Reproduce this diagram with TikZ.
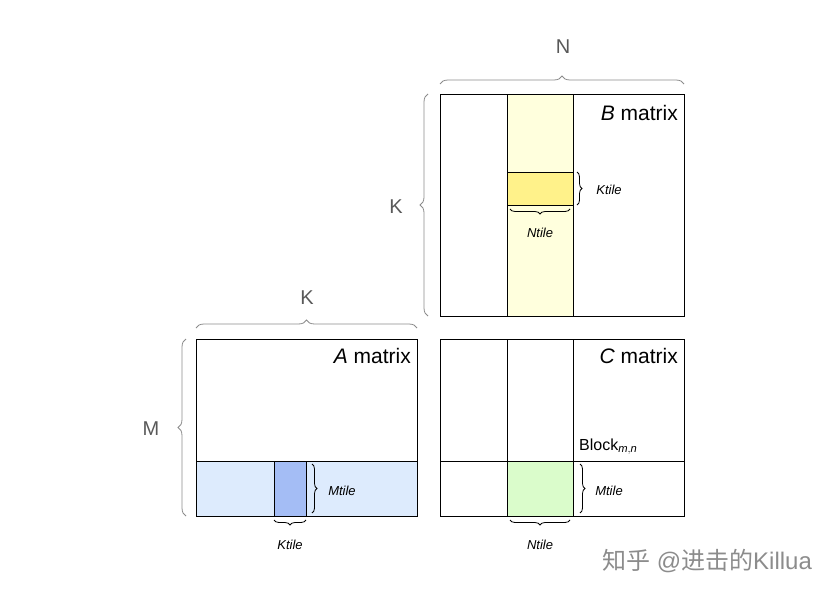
\documentclass[tikz,border=0pt]{standalone}
\usepackage{fontspec}
\setmainfont{Liberation Sans}
\newfontfamily\cjk{Noto Sans CJK SC}
\usetikzlibrary{decorations.pathreplacing}
\definecolor{ylight}{HTML}{FFFFDD}
\definecolor{ydark}{HTML}{FFF28A}
\definecolor{blight}{HTML}{DDEBFD}
\definecolor{bdark}{HTML}{A4BDF5}
\definecolor{gcell}{HTML}{DAFCCB}
\definecolor{lbl}{HTML}{595959}
\begin{document}
\begin{tikzpicture}[x=1pt,y=-1pt,
  mat/.style={draw=black,line width=0.8pt},
  bigbrace/.style={draw=lbl!70,line width=0.8pt,decorate,decoration={brace,amplitude=8pt}},
  smallbrace/.style={draw=black,line width=0.8pt,decorate,decoration={brace,amplitude=5pt}},
  biglabel/.style={text=lbl,font=\fontsize{20}{20}\selectfont},
  tilelabel/.style={font=\itshape\fontsize{13}{13}\selectfont},
  title/.style={anchor=north east,inner sep=2pt,font=\fontsize{21}{21}\selectfont}]
\useasboundingbox (0,0) rectangle (840,594);
% B matrix
\fill[ylight] (507,94) rectangle (573,316);
\fill[ydark] (507,172) rectangle (573,205);
\draw[mat] (507,172) rectangle (573,205);
\draw[mat] (507,94) -- (507,316) (573,94) -- (573,316);
\draw[mat] (440,94) rectangle (684,316);
\node[title] (bt) at (680,103) {\textit{B} matrix};
% A matrix
\fill[blight] (196,461) rectangle (417,516);
\fill[bdark] (274,461) rectangle (306,516);
\draw[mat] (274,461) -- (274,516) (306,461) -- (306,516) (196,461) -- (417,461);
\draw[mat] (196,339) rectangle (417,516);
\node[title] (at) at (413,346) {\textit{A} matrix};
% C matrix
\fill[gcell] (507,461) rectangle (573,516);
\draw[mat] (507,339) -- (507,516) (573,339) -- (573,516) (440,461) -- (684,461);
\draw[mat] (440,339) rectangle (684,516);
\node[title] (ct) at (680,346) {\textit{C} matrix};
\node[anchor=south west,inner sep=1pt,font=\fontsize{16}{16}\selectfont] (blk) at (578,456) {Block$_{\mathit{m,n}}$};
% big braces
\draw[bigbrace] (440,84) -- (684,84);
\node[biglabel] (N) at (563,47) {N};
\draw[bigbrace] (428,316) -- (428,94);
\node[biglabel] (K1) at (396,207) {K};
\draw[bigbrace] (196,328) -- (417,328);
\node[biglabel] (K2) at (307,298) {K};
\draw[bigbrace] (186,516) -- (186,339);
\node[biglabel] (M) at (151,429) {M};
% small braces
\draw[smallbrace] (577,172) -- (577,205);
\node[tilelabel] (kt1) at (609,190) {Ktile};
\draw[smallbrace] (570,209) -- (510,209);
\node[tilelabel] (nt1) at (540,233) {Ntile};
\draw[smallbrace] (312,464) -- (312,513);
\node[tilelabel] (mt1) at (342,491) {Mtile};
\draw[smallbrace] (306,520) -- (274,520);
\node[tilelabel] (kt2) at (290,545) {Ktile};
\draw[smallbrace] (580,464) -- (580,513);
\node[tilelabel] (mt2) at (609,491) {Mtile};
\draw[smallbrace] (570,520) -- (510,520);
\node[tilelabel] (nt2) at (540,545) {Ntile};
% watermark
\node[text=black!45,font=\fontsize{24}{24}\selectfont] (wm) at (707,561) {{\cjk 知乎} @{\cjk 进击的}Killua};
\end{tikzpicture}
\end{document}
